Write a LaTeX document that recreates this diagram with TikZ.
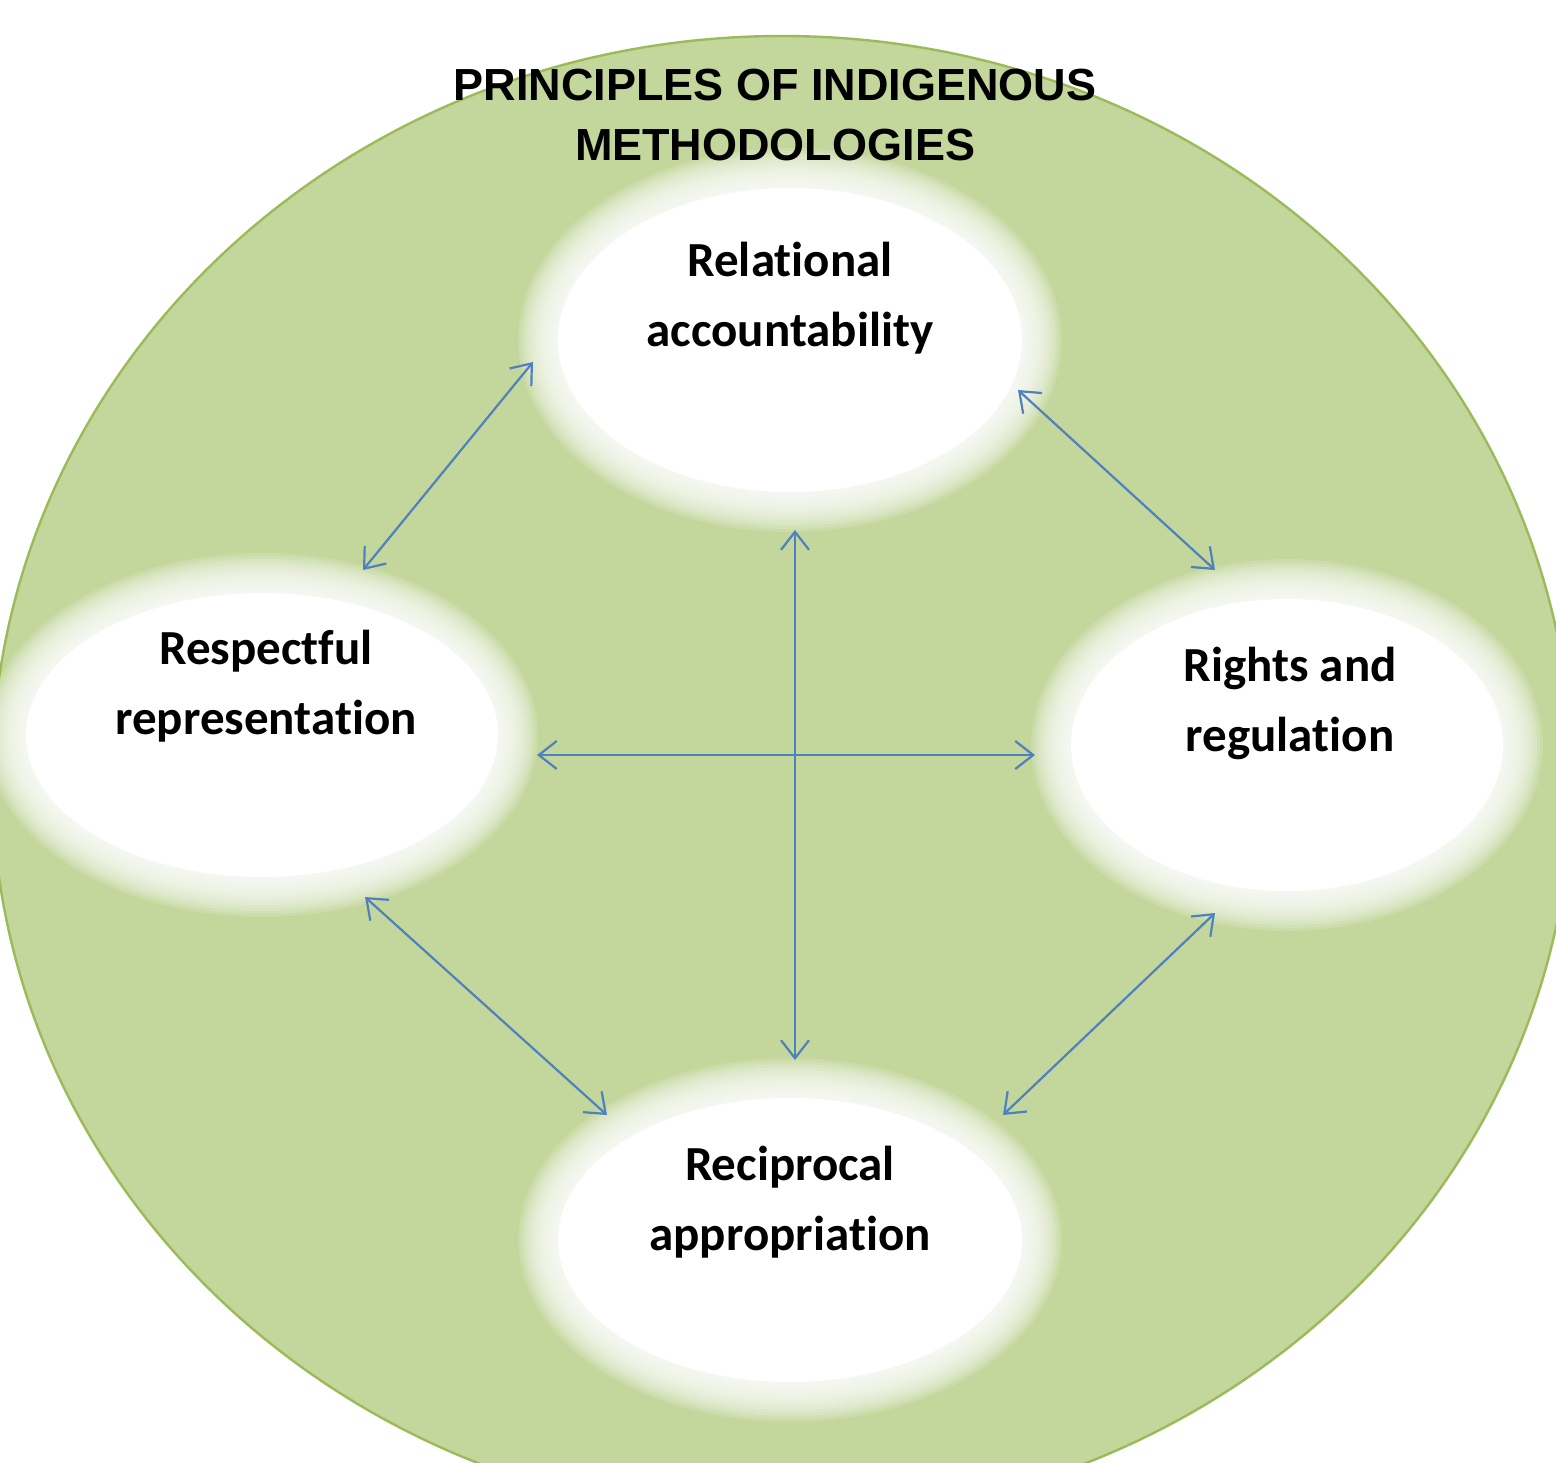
\documentclass[tikz,border=0pt]{standalone}
\usepackage{fontspec}
\setmainfont[Ligatures={NoCommon}]{Carlito}
\newfontfamily\titlefont{Liberation Sans}
\usetikzlibrary{arrows.meta}
\definecolor{bigfill}{HTML}{C3D69B}
\definecolor{bigedge}{HTML}{9BBB59}
\definecolor{arr}{HTML}{4F81BD}
\tikzset{
  lbl/.style={font=\bfseries\fontsize{24.5}{35}\selectfont, align=center, text=black},
  ttl/.style={font=\titlefont\bfseries\fontsize{22.5}{30}\selectfont, align=center, text=black},
  link/.style={draw=arr, line width=1.1pt, {Straight Barb[length=9pt,width=14pt]}-{Straight Barb[length=9pt,width=14pt]}}
}
\newcommand{\softell}[3]{%
  \foreach \k in {0,...,14}{
    \fill[white, opacity=0.15] (#1) ellipse [x radius={#2-3*\k}, y radius={#3-3*\k}];
  }
  \fill[white] (#1) ellipse [x radius={#2-40}, y radius={#3-40}];
}
\begin{document}
\begin{tikzpicture}[x=0.5pt,y=-0.5pt]
\useasboundingbox (0,0) rectangle (1556,1462);
\begin{scope}
\clip (0,0) rectangle (1556,1462);
\fill[bigfill, draw=bigedge, line width=1.2pt] (782,778) ellipse [x radius=790, y radius=742];
\softell{790,340}{272}{192}
\softell{262,735}{276}{182}
\softell{1287,745}{256}{186}
\softell{790,1240}{272}{182}
\end{scope}
\node[ttl] (title) at (775,115) {PRINCIPLES OF INDIGENOUS\\METHODOLOGIES};
\node[lbl] (top) at (790,298) {Relational\\accountability};
\node[lbl] (left) at (266,686) {Respectful\\representation};
\node[lbl] (right) at (1290,703) {Rights and\\regulation};
\node[lbl] (bot) at (790,1202) {Reciprocal\\appropriation};
\coordinate (a1) at (363,570); \coordinate (a2) at (533,362);
\coordinate (b1) at (1018,390); \coordinate (b2) at (1215,570);
\coordinate (c1) at (795,530); \coordinate (c2) at (795,1060);
\coordinate (d1) at (537,755); \coordinate (d2) at (1035,755);
\coordinate (e1) at (365,897); \coordinate (e2) at (607,1115);
\coordinate (f1) at (1215,913); \coordinate (f2) at (1003,1115);
\draw[link] (a1) -- (a2);
\draw[link] (b1) -- (b2);
\draw[link] (c1) -- (c2);
\draw[link] (d1) -- (d2);
\draw[link] (e1) -- (e2);
\draw[link] (f1) -- (f2);
\end{tikzpicture}
\end{document}
